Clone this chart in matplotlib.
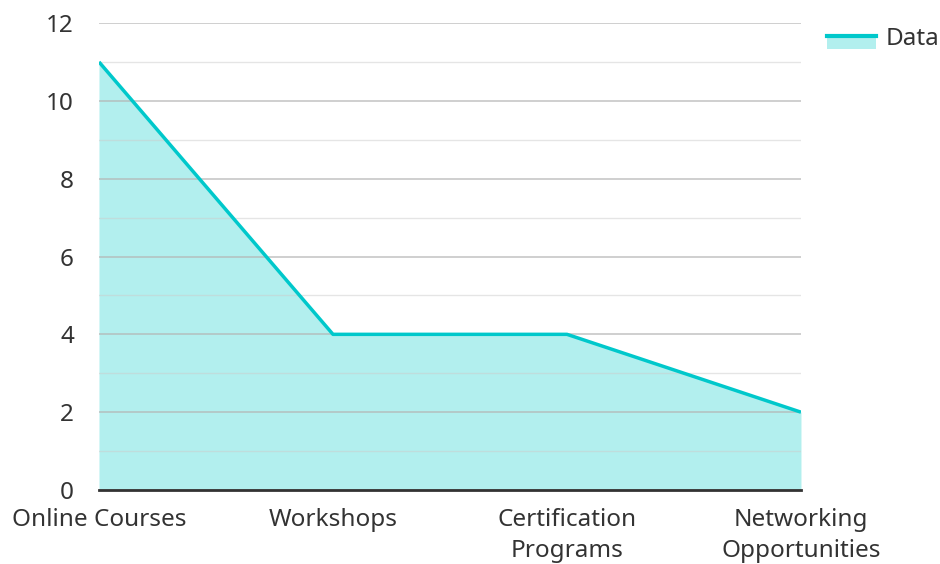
import matplotlib
matplotlib.use('agg')
import matplotlib.pyplot as plt
from matplotlib.patches import Rectangle
from matplotlib.lines import Line2D
from matplotlib.ticker import MultipleLocator

plt.rcParams['font.family'] = ['Noto Sans', 'DejaVu Sans']

# data
categories = ['Online Courses', 'Workshops', 'Certification\nPrograms', 'Networking\nOpportunities']
values = [11, 4, 4, 2]

line_color = '#00c8cb'
fill_color = '#b2efee'
fs = 17.5


class AreaHandler:
    # legend key: thin filled band with the line on its top edge
    def legend_artist(self, legend, orig_handle, fontsize, handlebox):
        x0, y0 = handlebox.xdescent, handlebox.ydescent
        w, h = handlebox.width, handlebox.height
        top = y0 + h * 0.55
        bot = y0 - h * 0.2
        patch = Rectangle((x0, bot), w, top - bot,
                          facecolor=fill_color, edgecolor='none',
                          transform=handlebox.get_transform())
        line = Line2D([x0, x0 + w], [top, top], color=line_color, lw=3,
                      transform=handlebox.get_transform())
        handlebox.add_artist(patch)
        handlebox.add_artist(line)
        return patch


fig = plt.figure(figsize=(9.4, 5.64), dpi=100)
ax = fig.add_axes([0.1053, 0.1312, 0.7468, 0.8280])

x = list(range(len(values)))
ax.fill_between(x, values, 0, color=fill_color, lw=0, zorder=1)
ax.plot(x, values, color=line_color, lw=2.5, zorder=3, solid_capstyle='butt')

ax.set_xlim(0, len(values) - 1)
ax.set_ylim(0, 12)
ax.yaxis.set_major_locator(MultipleLocator(2))
ax.yaxis.set_minor_locator(MultipleLocator(1))
ax.grid(axis='y', which='major', color='#b4b4b4', lw=1.2, alpha=0.75, zorder=2)
ax.grid(axis='y', which='minor', color='#cccccc', lw=1.0, alpha=0.5, zorder=2)
ax.set_axisbelow(False)

ax.set_xticks(x)
ax.set_xticklabels(categories, linespacing=1.38)
ax.tick_params(axis='both', which='both', length=0, labelsize=fs, colors='#333333')
ax.tick_params(axis='y', pad=18)
ax.tick_params(axis='x', pad=13)

for s in ['top', 'right', 'left']:
    ax.spines[s].set_visible(False)
ax.spines['bottom'].set_color('#333333')
ax.spines['bottom'].set_linewidth(2)
ax.spines['bottom'].set_zorder(4)

ax.legend([object()], ['Data'], handler_map={object: AreaHandler()},
          loc='upper left', bbox_to_anchor=(1.006, 1.038), frameon=False,
          fontsize=fs, handlelength=2.0, handletextpad=0.4,
          labelcolor='#333333')

fig.savefig('out.png', dpi=100)
